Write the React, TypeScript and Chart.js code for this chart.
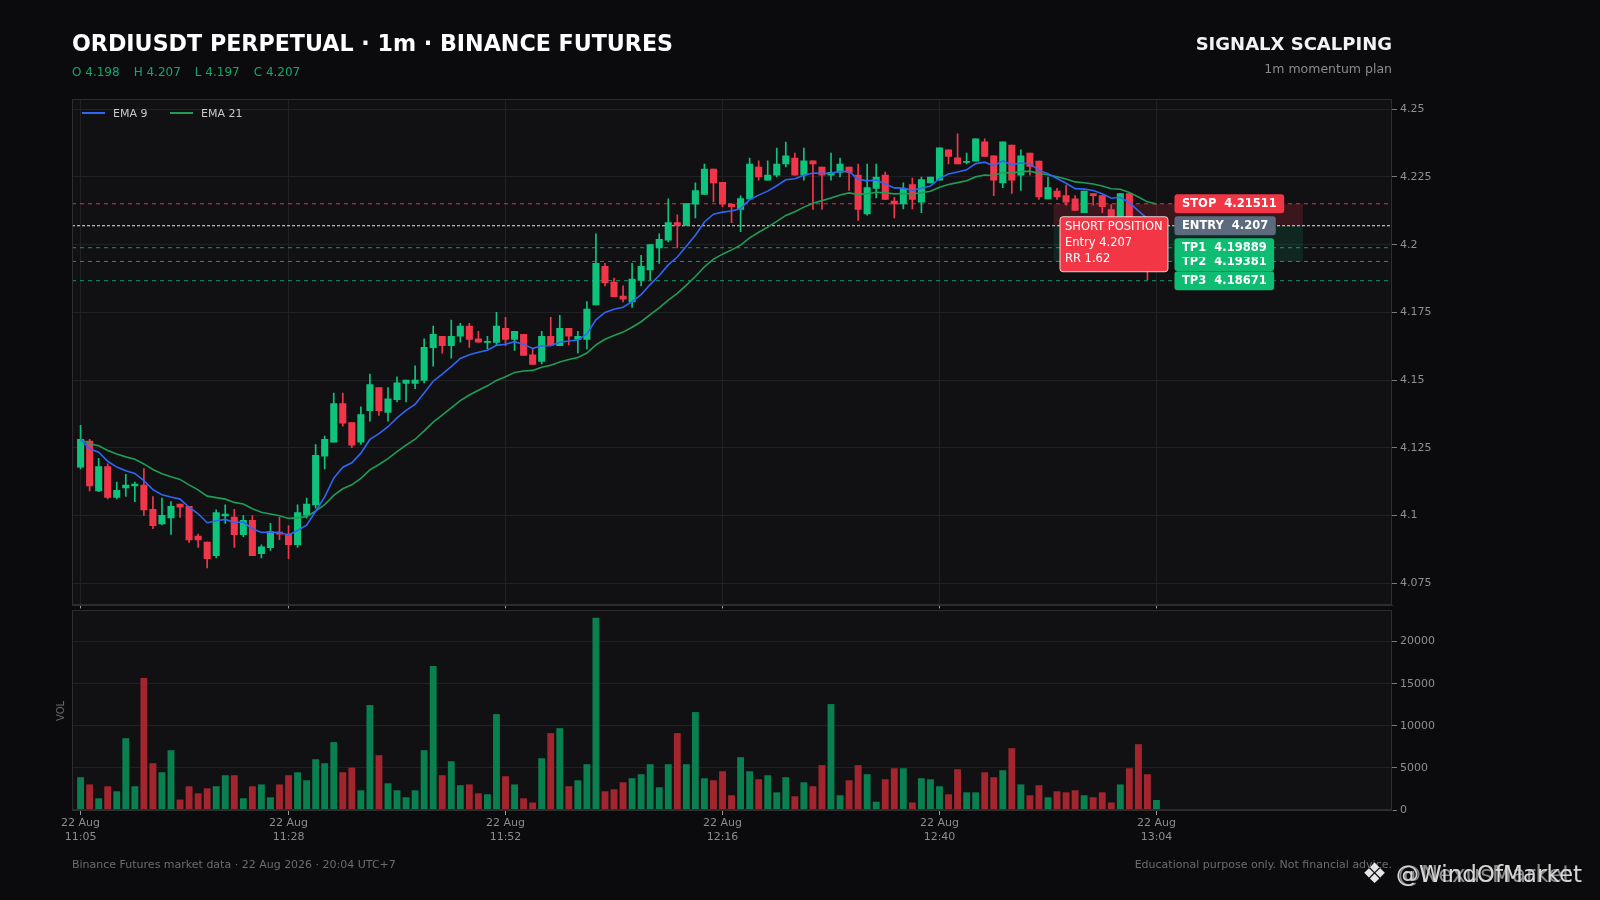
import React, { useEffect, useRef } from "react";
import { Chart, registerables } from "chart.js";

Chart.register(...registerables);

const FONT = "'DejaVu Sans', 'Noto Sans', sans-serif";
const PAGE_BG = "#0b0b0d";
const PLOT_BG = "#111114";
const GRID = "#212125";
const BORDER = "#2c2c31";
const UP = "#0ec47c";
const DOWN = "#f2364a";
const VOL_UP = "#0a7f50";
const VOL_DOWN = "#a3262f";

// ---- data (1m candles, 22 Aug 11:05 .. 13:04) ----
const opens = [
  4.1178, 4.1275, 4.1091, 4.1181, 4.1067, 4.1102, 4.1109, 4.1112, 4.1023, 4.0969,
  4.0991, 4.1042, 4.1034, 4.0924, 4.0902, 4.0852, 4.0998, 4.0994, 4.0929, 4.0982,
  4.0859, 4.0881, 4.0939, 4.0931, 4.0892, 4.1000, 4.1039, 4.1219, 4.1271, 4.1413,
  4.1343, 4.1271, 4.1387, 4.1472, 4.1381, 4.1428, 4.1488, 4.1488, 4.1499, 4.1620,
  4.1662, 4.1627, 4.1662, 4.1699, 4.1652, 4.1639, 4.1639, 4.1691, 4.1650, 4.1669,
  4.1593, 4.1569, 4.1662, 4.1627, 4.1691, 4.1650, 4.1650, 4.1778, 4.1920, 4.1862,
  4.1810, 4.1789, 4.1868, 4.1907, 4.1988, 4.2017, 4.2082, 4.2071, 4.2150, 4.2186,
  4.2279, 4.2230, 4.2150, 4.2130, 4.2169, 4.2287, 4.2238, 4.2257, 4.2298, 4.2320,
  4.2257, 4.2310, 4.2287, 4.2257, 4.2267, 4.2287, 4.2257, 4.2114, 4.2208, 4.2257,
  4.2161, 4.2151, 4.2222, 4.2157, 4.2228, 4.2238, 4.2350, 4.2321, 4.2304, 4.2308,
  4.2380, 4.2328, 4.2228, 4.2368, 4.2257, 4.2338, 4.2309, 4.2169, 4.2198, 4.2181,
  4.2169, 4.2118, 4.2189, 4.2181, 4.2130, 4.2105, 4.2189, 4.2075, 4.2005, 4.1980,
];
const highs = [
  4.1333, 4.1281, 4.1211, 4.1191, 4.1123, 4.1152, 4.1123, 4.1173, 4.1070, 4.1064,
  4.1051, 4.1042, 4.1034, 4.0931, 4.0902, 4.1021, 4.1039, 4.1023, 4.1000, 4.1000,
  4.0892, 4.0971, 4.0993, 4.0963, 4.1039, 4.1064, 4.1262, 4.1293, 4.1452, 4.1452,
  4.1343, 4.1401, 4.1522, 4.1472, 4.1472, 4.1512, 4.1500, 4.1553, 4.1652, 4.1699,
  4.1662, 4.1722, 4.1710, 4.1710, 4.1680, 4.1662, 4.1750, 4.1732, 4.1680, 4.1669,
  4.1615, 4.1680, 4.1732, 4.1739, 4.1691, 4.1680, 4.1790, 4.2040, 4.1931, 4.1877,
  4.1848, 4.1931, 4.1961, 4.2000, 4.2040, 4.2169, 4.2110, 4.2152, 4.2228, 4.2298,
  4.2279, 4.2230, 4.2150, 4.2180, 4.2320, 4.2310, 4.2310, 4.2357, 4.2379, 4.2338,
  4.2357, 4.2310, 4.2287, 4.2338, 4.2320, 4.2287, 4.2298, 4.2298, 4.2298, 4.2268,
  4.2175, 4.2228, 4.2246, 4.2250, 4.2250, 4.2358, 4.2350, 4.2409, 4.2338, 4.2391,
  4.2391, 4.2328, 4.2380, 4.2368, 4.2350, 4.2338, 4.2309, 4.2250, 4.2208, 4.2220,
  4.2181, 4.2198, 4.2189, 4.2181, 4.2148, 4.2189, 4.2189, 4.2080, 4.2010, 4.2070,
];
const lows = [
  4.1172, 4.1091, 4.1088, 4.1061, 4.1061, 4.1070, 4.1051, 4.1000, 4.0951, 4.0965,
  4.0930, 4.0993, 4.0901, 4.0882, 4.0806, 4.0843, 4.0971, 4.0882, 4.0922, 4.0852,
  4.0843, 4.0871, 4.0911, 4.0841, 4.0882, 4.0990, 4.1027, 4.1172, 4.1271, 4.1330,
  4.1250, 4.1262, 4.1348, 4.1370, 4.1348, 4.1419, 4.1419, 4.1468, 4.1490, 4.1551,
  4.1599, 4.1581, 4.1640, 4.1621, 4.1640, 4.1615, 4.1627, 4.1627, 4.1610, 4.1591,
  4.1558, 4.1560, 4.1630, 4.1627, 4.1630, 4.1600, 4.1615, 4.1778, 4.1848, 4.1808,
  4.1789, 4.1768, 4.1848, 4.1870, 4.1931, 4.2010, 4.1988, 4.2071, 4.2099, 4.2186,
  4.2158, 4.2140, 4.2081, 4.2048, 4.2169, 4.2238, 4.2238, 4.2250, 4.2287, 4.2257,
  4.2238, 4.2130, 4.2130, 4.2238, 4.2250, 4.2200, 4.2090, 4.2109, 4.2173, 4.2167,
  4.2099, 4.2132, 4.2132, 4.2118, 4.2228, 4.2238, 4.2298, 4.2298, 4.2298, 4.2308,
  4.2326, 4.2181, 4.2211, 4.2189, 4.2200, 4.2257, 4.2167, 4.2169, 4.2167, 4.2146,
  4.2127, 4.2118, 4.2146, 4.2118, 4.2093, 4.2105, 4.2060, 4.1990, 4.1871, 4.1970,
];
const closes = [
  4.1281, 4.1109, 4.1181, 4.1067, 4.1093, 4.1112, 4.1116, 4.1021, 4.0962, 4.1001,
  4.1034, 4.1031, 4.0910, 4.0910, 4.0841, 4.1011, 4.1005, 4.0929, 4.0982, 4.0852,
  4.0884, 4.0941, 4.0931, 4.0892, 4.1011, 4.1042, 4.1222, 4.1281, 4.1413, 4.1341,
  4.1260, 4.1373, 4.1483, 4.1387, 4.1431, 4.1490, 4.1500, 4.1500, 4.1621, 4.1669,
  4.1627, 4.1662, 4.1699, 4.1650, 4.1640, 4.1640, 4.1699, 4.1650, 4.1680, 4.1591,
  4.1558, 4.1662, 4.1630, 4.1691, 4.1662, 4.1662, 4.1762, 4.1931, 4.1859, 4.1808,
  4.1799, 4.1873, 4.1920, 4.2000, 4.2020, 4.2082, 4.2071, 4.2152, 4.2200, 4.2279,
  4.2228, 4.2150, 4.2140, 4.2170, 4.2298, 4.2250, 4.2257, 4.2298, 4.2328, 4.2257,
  4.2310, 4.2298, 4.2257, 4.2267, 4.2298, 4.2267, 4.2130, 4.2211, 4.2250, 4.2167,
  4.2151, 4.2206, 4.2167, 4.2240, 4.2250, 4.2358, 4.2326, 4.2298, 4.2308, 4.2391,
  4.2326, 4.2238, 4.2380, 4.2238, 4.2328, 4.2289, 4.2176, 4.2211, 4.2176, 4.2157,
  4.2127, 4.2198, 4.2181, 4.2140, 4.2105, 4.2189, 4.2075, 4.2005, 4.1980, 4.2070,
];
const volumes = [
  3850, 3000, 1350, 2780, 2180, 8490, 2780, 15630, 5520, 4440,
  7060, 1200, 2780, 1940, 2540, 2780, 4090, 4090, 1350, 2780,
  3000, 1470, 3000, 4090, 4440, 3490, 5990, 5520, 8020, 4440,
  5000, 2300, 12420, 6470, 3130, 2300, 1470, 2300, 7060, 17060,
  4090, 5750, 2900, 3000, 1940, 1830, 11350, 3970, 3000, 1350,
  850, 6110, 9090, 9680, 2780, 3490, 5400, 22780, 2180, 2420,
  3250, 3730, 4210, 5400, 2660, 5400, 9090, 5400, 11590, 3730,
  3490, 4560, 1710, 6230, 4560, 3610, 4090, 2060, 3850, 1590,
  3250, 2780, 5280, 12540, 1710, 3490, 5280, 4210, 950, 3610,
  4920, 4920, 850, 3730, 3610, 2780, 1830, 4800, 2060, 2060,
  4440, 3850, 4680, 7300, 3000, 1710, 2900, 1470, 2180, 2060,
  2300, 1710, 1470, 2060, 850, 3000, 4920, 7780, 4210, 1150,
];

const tickIndex = [0, 23, 47, 71, 95, 119];
const tickTimes = ["11:05", "11:28", "11:52", "12:16", "12:40", "13:04"];
const tickDate = "22 Aug";
const priceTicks = [4.075, 4.1, 4.125, 4.15, 4.175, 4.2, 4.225, 4.25];
const volTicks = [0, 5000, 10000, 15000, 20000];

const stopPrice = 4.21511;
const entryPrice = 4.207;
const tp1Price = 4.19889;
const tp2Price = 4.19381;
const tp3Price = 4.18671;
const rrLabel = "1.62";

const X_MIN = -0.95;
const X_MAX = 145.05;
const ZONE_START = 107.6;
const ZONE_END = 135.2;
const PRICE_MIN = 4.0668;
const PRICE_MAX = 4.2538;
const VOL_MAX = 23750;

function ema(values: number[], n: number): number[] {
  const k = 2 / (n + 1);
  const out: number[] = [];
  values.forEach((v, i) => out.push(i === 0 ? v : v * k + out[i - 1] * (1 - k)));
  return out;
}

const bgPlugin = {
  id: "plotBg",
  beforeDraw(chart: any) {
    const { ctx, chartArea } = chart;
    const { left, top, right, bottom } = chartArea;
    ctx.save();
    ctx.fillStyle = PLOT_BG;
    ctx.fillRect(left, top, right - left, bottom - top);
    ctx.restore();
  },
  afterDraw(chart: any) {
    const { ctx, chartArea } = chart;
    const { left, top, right, bottom } = chartArea;
    ctx.save();
    ctx.strokeStyle = BORDER;
    ctx.lineWidth = 1;
    ctx.strokeRect(Math.round(left) + 0.5, Math.round(top) + 0.5, Math.round(right - left) - 1, Math.round(bottom - top) - 1);
    ctx.restore();
  },
};

const levelLabels = [
  { text: `STOP  ${stopPrice}`, price: stopPrice, color: "#f23645" },
  { text: `ENTRY  ${entryPrice}`, price: entryPrice, color: "#5d6b7e" },
  { text: `TP3  ${tp3Price}`, price: tp3Price, color: "#0ebc72" },
  { text: `TP2  ${tp2Price}`, price: tp2Price, color: "#0ebc72" },
  { text: `TP1  ${tp1Price}`, price: tp1Price, color: "#0ebc72" },
];

const overlayPlugin = {
  id: "tradeOverlay",
  afterDraw(chart: any) {
    const { ctx, scales } = chart;
    const xs = scales.x;
    const ys = scales.y;
    const labelX = xs.getPixelForValue(closes.length - 1) + 18;
    ctx.save();
    ctx.font = `bold 11.5px ${FONT}`;
    ctx.textBaseline = "middle";
    levelLabels.forEach((l) => {
      const y = ys.getPixelForValue(l.price);
      const w = ctx.measureText(l.text).width + 15;
      ctx.fillStyle = l.color;
      ctx.beginPath();
      ctx.roundRect(labelX, y - 9.5, w, 19, 3);
      ctx.fill();
      ctx.fillStyle = "#ffffff";
      ctx.fillText(l.text, labelX + 7.5, y + 0.5);
    });
    // short position box
    const yE = ys.getPixelForValue(entryPrice);
    const bw = 108;
    const bh = 55;
    const bx = labelX - 7 - bw;
    const by = yE - 9.5;
    ctx.fillStyle = "#f23645";
    ctx.strokeStyle = "rgba(255,255,255,0.8)";
    ctx.lineWidth = 1;
    ctx.beginPath();
    ctx.roundRect(bx + 0.5, by + 0.5, bw, bh, 3);
    ctx.fill();
    ctx.stroke();
    ctx.fillStyle = "#ffffff";
    ctx.font = `11.5px ${FONT}`;
    const lines = ["SHORT POSITION", `Entry ${entryPrice}`, `RR ${rrLabel}`];
    lines.forEach((t, i) => ctx.fillText(t, bx + 5.5, by + 10.5 + i * 16.3));
    ctx.restore();
  },
};

function hLine(price: number, color: string, dash: number[]) {
  return {
    type: "line" as const,
    data: [
      { x: X_MIN, y: price },
      { x: X_MAX, y: price },
    ],
    borderColor: color,
    borderWidth: 1,
    borderDash: dash,
    pointRadius: 0,
    order: 5,
  };
}

function zone(price: number, color: string) {
  return {
    type: "line" as const,
    data: [
      { x: ZONE_START, y: price },
      { x: ZONE_END, y: price },
    ],
    borderColor: "transparent",
    borderWidth: 0,
    backgroundColor: color,
    fill: { value: entryPrice },
    pointRadius: 0,
    order: 6,
  };
}

const xTickHook = (s: any) => {
  s.ticks = tickIndex.map((v) => ({ value: v }));
};

export default function App() {
  const priceRef = useRef<HTMLCanvasElement>(null);
  const volRef = useRef<HTMLCanvasElement>(null);

  useEffect(() => {
    document.body.style.margin = "0";
    document.body.style.background = PAGE_BG;
    Chart.defaults.font.family = FONT;

    const colors = closes.map((c, i) => (c >= opens[i] ? UP : DOWN));
    const volColors = closes.map((c, i) => (c >= opens[i] ? VOL_UP : VOL_DOWN));
    const ema9 = ema(closes, 9);
    const ema21 = ema(closes, 21);

    const priceChart = new Chart(priceRef.current as HTMLCanvasElement, {
      type: "bar",
      data: {
        datasets: [
          {
            type: "line",
            label: "EMA 9",
            data: ema9.map((y, i) => ({ x: i, y })),
            borderColor: "#2f66f5",
            borderWidth: 1.6,
            pointRadius: 0,
            order: 0,
          },
          {
            type: "line",
            label: "EMA 21",
            data: ema21.map((y, i) => ({ x: i, y })),
            borderColor: "#1f9d55",
            borderWidth: 1.6,
            pointRadius: 0,
            order: 0,
          },
          hLine(stopPrice, "rgba(242,54,69,0.9)", [4, 4]),
          hLine(entryPrice, "#e2e2e2", [3, 2]),
          hLine(tp1Price, "rgba(14,196,124,0.75)", [4, 4]),
          hLine(tp2Price, "rgba(14,196,124,0.75)", [4, 4]),
          hLine(tp3Price, "rgba(14,196,124,0.75)", [4, 4]),
          zone(stopPrice, "rgba(242,54,69,0.18)"),
          zone(tp2Price, "rgba(14,196,124,0.12)"),
          {
            type: "bar",
            label: "wick",
            data: lows.map((l, i) => ({ x: i, y: [l, highs[i]] })),
            backgroundColor: colors,
            barThickness: 1,
            grouped: false,
            order: 2,
          },
          {
            type: "bar",
            label: "body",
            data: opens.map((o, i) => ({ x: i, y: [o, closes[i]] })),
            backgroundColor: colors,
            barThickness: 6.4,
            minBarLength: 1,
            grouped: false,
            order: 1,
          },
        ] as any,
      },
      options: {
        responsive: false,
        animation: false,
        events: [],
        layout: { padding: { left: 72, top: 99, right: 0, bottom: 0 } },
        plugins: { legend: { display: false }, tooltip: { enabled: false } },
        scales: {
          x: {
            type: "linear",
            min: X_MIN,
            max: X_MAX,
            offset: false,
            afterBuildTicks: xTickHook,
            ticks: { display: false },
            grid: { offset: false, color: GRID, drawTicks: true, tickLength: 3, tickColor: "#9a9a9a" },
            border: { display: true, color: BORDER },
            afterFit: (s: any) => {
              s.height = 8;
            },
          },
          y: {
            position: "right",
            min: PRICE_MIN,
            max: PRICE_MAX,
            afterBuildTicks: (s: any) => {
              s.ticks = priceTicks.map((v) => ({ value: v }));
            },
            ticks: {
              color: "#8f8f8f",
              font: { size: 11, family: FONT },
              padding: 3,
              callback: (v: any) => String(v),
            },
            grid: { color: GRID, drawTicks: true, tickLength: 5, tickColor: "#7a7a7a" },
            border: { display: false },
            afterFit: (s: any) => {
              s.width = 208;
            },
          },
        },
      } as any,
      plugins: [bgPlugin, overlayPlugin],
    });

    const volChart = new Chart(volRef.current as HTMLCanvasElement, {
      type: "bar",
      data: {
        datasets: [
          {
            label: "VOL",
            data: volumes.map((v, i) => ({ x: i, y: v })),
            backgroundColor: volColors,
            barThickness: 6.2,
            grouped: false,
          },
        ] as any,
      },
      options: {
        responsive: false,
        animation: false,
        events: [],
        layout: { padding: { left: 72, top: 10, right: 0, bottom: 0 } },
        plugins: { legend: { display: false }, tooltip: { enabled: false } },
        scales: {
          x: {
            type: "linear",
            min: X_MIN,
            max: X_MAX,
            offset: false,
            afterBuildTicks: xTickHook,
            ticks: {
              color: "#8c8c8c",
              font: { size: 11, family: FONT },
              padding: 2,
              maxRotation: 0,
              autoSkip: false,
              callback: (v: any) => [tickDate, tickTimes[tickIndex.indexOf(v)] ?? ""],
            },
            grid: { offset: false, drawOnChartArea: false, drawTicks: true, tickLength: 5, tickColor: "#9a9a9a" },
            border: { display: true, color: BORDER },
            afterFit: (s: any) => {
              s.height = 90;
            },
          },
          y: {
            position: "right",
            min: 0,
            max: VOL_MAX,
            afterBuildTicks: (s: any) => {
              s.ticks = volTicks.map((v) => ({ value: v }));
            },
            ticks: {
              color: "#8f8f8f",
              font: { size: 11, family: FONT },
              padding: 3,
              callback: (v: any) => String(v),
            },
            grid: { color: GRID, drawTicks: true, tickLength: 5, tickColor: "#7a7a7a" },
            border: { display: false },
            afterFit: (s: any) => {
              s.width = 208;
            },
          },
        },
      } as any,
      plugins: [bgPlugin],
    });

    return () => {
      priceChart.destroy();
      volChart.destroy();
    };
  }, []);

  const last = closes.length - 1;
  const abs = (extra: React.CSSProperties): React.CSSProperties => ({
    position: "absolute",
    whiteSpace: "nowrap",
    fontFamily: FONT,
    ...extra,
  });

  return (
    <div
      style={{
        position: "relative",
        width: 1600,
        height: 900,
        background: PAGE_BG,
        overflow: "hidden",
        fontFamily: FONT,
      }}
    >
      <canvas ref={priceRef} width={1600} height={615} style={{ position: "absolute", left: 0, top: 0, display: "block" }} />
      <canvas ref={volRef} width={1600} height={300} style={{ position: "absolute", left: 0, top: 600, display: "block" }} />

      <div style={abs({ left: 72, top: 32, fontSize: 22.2, lineHeight: "22px", fontWeight: "bold", color: "#ffffff" })}>
        ORDIUSDT PERPETUAL · 1m · BINANCE FUTURES
      </div>
      <div style={abs({ left: 72, top: 66, fontSize: 12, lineHeight: "12px", color: "#13a86b", display: "flex", gap: 14 })}>
        <span>O {opens[last].toFixed(3)}</span>
        <span>H {highs[last].toFixed(3)}</span>
        <span>L {lows[last].toFixed(3)}</span>
        <span>C {closes[last].toFixed(3)}</span>
      </div>
      <div style={abs({ right: 208, top: 35, fontSize: 18, lineHeight: "18px", fontWeight: "bold", color: "#f2f2f2" })}>
        SIGNALX SCALPING
      </div>
      <div style={abs({ right: 208, top: 63, fontSize: 12.5, lineHeight: "12.5px", color: "#8a8a8a" })}>
        1m momentum plan
      </div>

      {/* legend */}
      <div style={abs({ left: 81.5, top: 112, width: 23, height: 2, background: "#2f66f5" })} />
      <div style={abs({ left: 113, top: 107.7, fontSize: 11, lineHeight: "11px", color: "#c8c8c8" })}>EMA 9</div>
      <div style={abs({ left: 169.5, top: 112, width: 23, height: 2, background: "#1f9d55" })} />
      <div style={abs({ left: 201, top: 107.7, fontSize: 11, lineHeight: "11px", color: "#c8c8c8" })}>EMA 21</div>

      <div
        style={abs({
          left: 51,
          top: 706,
          fontSize: 10,
          lineHeight: "10px",
          color: "#6a6a6a",
          transform: "rotate(-90deg)",
        })}
      >
        VOL
      </div>

      <div style={abs({ left: 72, top: 859, fontSize: 11, lineHeight: "11px", color: "#6c6c6c" })}>
        Binance Futures market data · 22 Aug 2026 · 20:04 UTC+7
      </div>
      <div style={abs({ right: 208, top: 859, fontSize: 11, lineHeight: "11px", color: "#6c6c6c" })}>
        Educational purpose only. Not financial advice.
      </div>

      {/* watermark */}
      <div style={abs({ left: 1362, top: 860, fontSize: 28, lineHeight: "28px", color: "#e6e6e6" })}>❖</div>
      <div style={abs({ left: 1396, top: 863, fontSize: 23, lineHeight: "23px", color: "rgba(235,235,235,0.9)" })}>
        @WindOfMarket
      </div>
      <div style={abs({ left: 1398, top: 863, fontSize: 23, lineHeight: "23px", color: "rgba(220,220,220,0.6)" })}>
        @NexusMarket
      </div>
    </div>
  );
}
